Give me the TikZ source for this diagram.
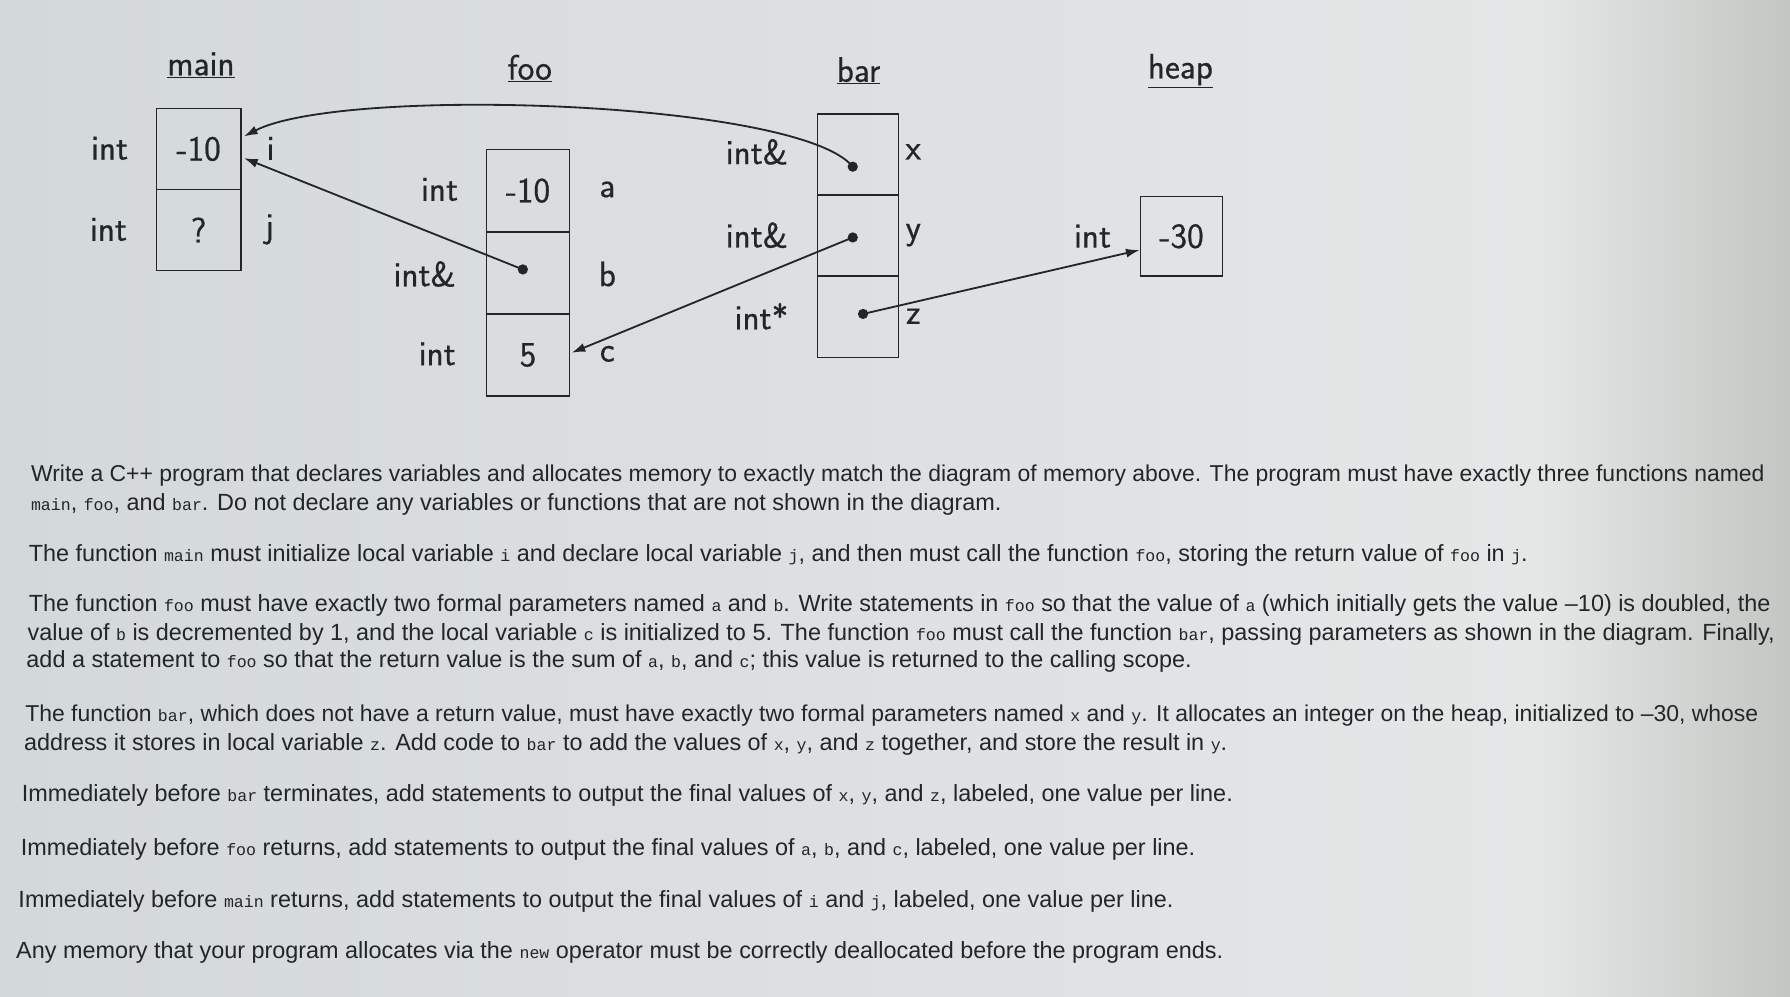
\documentclass[tikz,border=0pt]{standalone}
\usepackage{fontspec}
\setmainfont{Liberation Sans}
\setmonofont{Liberation Mono}
\newfontfamily\diagfam[FakeBold=0.5]{Latin Modern Sans}
\usetikzlibrary{arrows.meta,calc}
\definecolor{bgL}{HTML}{D3D8DB}
\definecolor{bgM}{HTML}{E5E7E7}
\definecolor{bgR}{HTML}{C4C6C3}
\definecolor{ink}{HTML}{222628}
\newcommand\cd[1]{{\ttfamily\fontsize{14.5}{15}\selectfont #1}}
\newcommand\diagtxt{\diagfam\fontsize{31}{34}\selectfont}
\newcommand\bodytxt{\rmfamily\fontsize{20.5}{24}\selectfont}
\newcommand\bodytxtsm{\rmfamily\fontsize{20.1}{24}\selectfont}
\tikzset{
  cell/.style={draw=ink, line width=1.4pt, minimum width=73pt, minimum height=71pt, inner sep=0pt, font=\diagtxt, text=ink},
  lbl/.style={font=\diagtxt, text=ink, inner sep=0pt},
  ttl/.style={font=\diagtxt, text=ink, inner sep=0pt},
  dot/.style={circle, fill=ink, inner sep=0pt, minimum size=9pt},
  arr/.style={draw=ink, line width=1.6pt, -{Latex[length=12pt,width=8pt]}},
  line/.style={anchor=base west, font=\bodytxt, text=ink, inner sep=0pt}
}
\begin{document}
\begin{tikzpicture}[x=1pt,y=-1pt]
\useasboundingbox (0,0) rectangle (1568,873);
\shade[left color=bgL, right color=bgM] (0,0) rectangle (1350,873);
\shade[left color=bgM, right color=bgR] (1349,0) rectangle (1568,873);

% titles
\node[ttl] (tmain) at (176,57) {\underline{main}};
\node[ttl] (tfoo) at (464,60) {\underline{foo}};
\node[ttl] (tbar) at (752,62) {\underline{bar}};
\node[ttl] (theap) at (1034,62) {\underline{heap}};

% main
\node[cell, minimum width=74pt] (mi) at (174,130.5) {-10};
\node[cell, minimum width=74pt] (mj) at (174,201.5) {?};
\node[lbl] (mit) at (96,130) {int};
\node[lbl] (mjt) at (95,201) {int};
\node[lbl] (min) at (237,130) {i};
\node[lbl] (mjn) at (236,201) {j};

% foo
\node[cell, minimum height=72pt] (fa) at (462.5,167) {-10};
\node[cell, minimum height=72pt] (fb) at (462.5,239) {};
\node[cell, minimum height=72pt] (fc) at (462.5,311) {5};
\node[lbl] (fat) at (385,166) {int};
\node[lbl] (fbt) at (372,240) {int\&};
\node[lbl] (fct) at (383,310) {int};
\node[lbl] (fan) at (532,166) {a};
\node[lbl] (fbn) at (532,240) {b};
\node[lbl] (fcn) at (532,310) {c};
\node[dot] (db) at (458,236) {};

% bar
\node[cell, minimum width=71pt] (bx) at (751.5,135.5) {};
\node[cell, minimum width=71pt] (by) at (751.5,206.5) {};
\node[cell, minimum width=71pt] (bz) at (751.5,277.5) {};
\node[lbl] (bxt) at (663,133) {int\&};
\node[lbl] (byt) at (663,206) {int\&};
\node[lbl] (bzt) at (667,277) {int*};
\node[lbl] (bxn) at (800,133) {x};
\node[lbl] (byn) at (800,206) {y};
\node[lbl] (bzn) at (800,277) {z};
\node[dot] (dx) at (747,146) {};
\node[dot] (dy) at (747,208) {};
\node[dot] (dz) at (756,275) {};

% heap
\node[cell, minimum width=72pt, minimum height=70pt] (hp) at (1035,207) {-30};
\node[lbl] (hpt) at (957,207) {int};

% connectors
\draw[arr] (dx.center) .. controls (700,88) and (300,75) .. ($(mi.east)+(2,-11)$);
\draw[arr] (db.center) -- ($(mi.east)+(2,8)$);
\draw[arr] (dy.center) -- ($(fc.east)+(1,-2)$);
\draw[arr] (dz.center) -- ($(hp.west)+(0,12)$);

% text
\node[line, font=\bodytxtsm] (l1) at (27,422) {Write a C++ program that declares variables and allocates memory to exactly match the diagram of memory above. The program must have exactly three functions named};
\node[line] (l2) at (27,447) {\cd{main}, \cd{foo}, and \cd{bar}. Do not declare any variables or functions that are not shown in the diagram.};
\node[line] (l3) at (25,492) {The function \cd{main} must initialize local variable \cd{i} and declare local variable \cd{j}, and then must call the function \cd{foo}, storing the return value of \cd{foo} in \cd{j}.};
\node[line] (l4) at (25,536) {The function \cd{foo} must have exactly two formal parameters named \cd{a} and \cd{b}. Write statements in \cd{foo} so that the value of \cd{a} (which initially gets the value –10) is doubled, the};
\node[line] (l5) at (24,561) {value of \cd{b} is decremented by 1, and the local variable \cd{c} is initialized to 5. The function \cd{foo} must call the function \cd{bar}, passing parameters as shown in the diagram. Finally,};
\node[line] (l6) at (23,585) {add a statement to \cd{foo} so that the return value is the sum of \cd{a}, \cd{b}, and \cd{c}; this value is returned to the calling scope.};
\node[line, font=\bodytxtsm] (l7) at (22,632) {The function \cd{bar}, which does not have a return value, must have exactly two formal parameters named \cd{x} and \cd{y}. It allocates an integer on the heap, initialized to –30, whose};
\node[line] (l8) at (21,657) {address it stores in local variable \cd{z}. Add code to \cd{bar} to add the values of \cd{x}, \cd{y}, and \cd{z} together, and store the result in \cd{y}.};
\node[line] (l9) at (19,702) {Immediately before \cd{bar} terminates, add statements to output the final values of \cd{x}, \cd{y}, and \cd{z}, labeled, one value per line.};
\node[line] (l10) at (18,749) {Immediately before \cd{foo} returns, add statements to output the final values of \cd{a}, \cd{b}, and \cd{c}, labeled, one value per line.};
\node[line] (l11) at (16,795) {Immediately before \cd{main} returns, add statements to output the final values of \cd{i} and \cd{j}, labeled, one value per line.};
\node[line] (l12) at (14,840) {Any memory that your program allocates via the \cd{new} operator must be correctly deallocated before the program ends.};
\end{tikzpicture}
\end{document}
